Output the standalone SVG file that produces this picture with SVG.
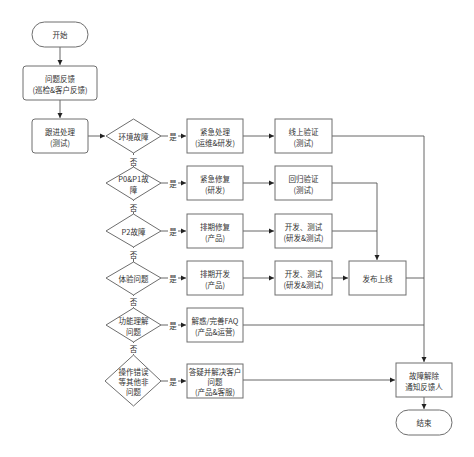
<svg xmlns="http://www.w3.org/2000/svg" width="474" height="457" viewBox="0 0 474 457">
<defs>
<marker id="ah" markerWidth="6" markerHeight="6" refX="5" refY="3" orient="auto" markerUnits="userSpaceOnUse">
<path d="M0,0.5 L5,3 L0,5.5 Z" fill="#222"/>
</marker>
<style>
.n{fill:#fff;stroke:#6e6e6e;stroke-width:1}
.t{font-family:"Noto Sans CJK SC","Noto Sans",sans-serif;font-size:7.5px;fill:#333;text-anchor:middle;dominant-baseline:central}
.c{fill:none;stroke:#555;stroke-width:0.9}
.a{marker-end:url(#ah)}
.lb{fill:#fff}
</style>
</defs>
<rect width="474" height="457" fill="#fff"/>
<g id="connectors">
<path class="c a" d="M60,47 V65"/>
<path class="c a" d="M60,100 V118"/>
<path class="c a" d="M88,136 H105"/>
<path class="c" d="M133.5,153 V167 M133.5,200 V214 M133.5,247 V262 M133.5,295 V308 M133.5,342 V355"/>
<path class="c a" d="M161,136 H186"/>
<path class="c a" d="M161,183 H186"/>
<path class="c a" d="M161,231 H186"/>
<path class="c a" d="M161,278 H186"/>
<path class="c a" d="M161,325 H186"/>
<path class="c a" d="M161,381 H186"/>
<path class="c a" d="M243,136 H274"/>
<path class="c a" d="M243,183 H274"/>
<path class="c a" d="M243,231 H274"/>
<path class="c a" d="M243,278 H274"/>
<path class="c a" d="M332,183 H377 V260"/>
<path class="c" d="M332,231 H377"/>
<path class="c a" d="M332,278 H348"/>
<path class="c" d="M406,278 H424"/>
<path class="c a" d="M332,136 H424 V362"/>
<path class="c" d="M243,325 H424"/>
<path class="c a" d="M243,380 H395"/>
<path class="c a" d="M424,397 V409"/>
<rect class="lb" x="168" y="130" width="10" height="12"/><text class="t" x="173" y="136">是</text>
<rect class="lb" x="168" y="177" width="10" height="12"/><text class="t" x="173" y="183">是</text>
<rect class="lb" x="168" y="225" width="10" height="12"/><text class="t" x="173" y="231">是</text>
<rect class="lb" x="168" y="272" width="10" height="12"/><text class="t" x="173" y="278">是</text>
<rect class="lb" x="168" y="319" width="10" height="12"/><text class="t" x="173" y="325">是</text>
<rect class="lb" x="168" y="375" width="10" height="12"/><text class="t" x="173" y="381">是</text>
<rect class="lb" x="128.5" y="155" width="10" height="11"/><text class="t" x="133.5" y="161">否</text>
<rect class="lb" x="128.5" y="201" width="10" height="11"/><text class="t" x="133.5" y="207">否</text>
<rect class="lb" x="128.5" y="248" width="10" height="11"/><text class="t" x="133.5" y="254">否</text>
<rect class="lb" x="128.5" y="296" width="10" height="11"/><text class="t" x="133.5" y="301">否</text>
<rect class="lb" x="128.5" y="343" width="10" height="11"/><text class="t" x="133.5" y="348">否</text>
</g>
<g id="start"><rect class="n" x="32" y="22" width="56" height="25" rx="12.5"/><text class="t" x="60" y="34.5">开始</text></g>
<g id="feedback"><rect class="n" x="23" y="66" width="74" height="34" rx="3"/><text class="t" x="60" y="78">问题反馈</text><text class="t" x="60" y="89">(巡检&amp;客户反馈)</text></g>
<g id="follow"><rect class="n" x="32" y="119" width="56" height="34" rx="3"/><text class="t" x="60" y="131">跟进处理</text><text class="t" x="60" y="142">(测试)</text></g>
<g id="d1"><polygon class="n" points="106,136 133.5,119 161,136 133.5,153"/><text class="t" x="133.5" y="136">环境故障</text></g>
<g id="d2"><polygon class="n" points="106,183 133.5,167 161,183 133.5,200"/><text class="t" x="133.5" y="178.5">P0&amp;P1故</text><text class="t" x="133.5" y="189">障</text></g>
<g id="d3"><polygon class="n" points="106,231 133.5,214 161,231 133.5,247"/><text class="t" x="133.5" y="231">P2故障</text></g>
<g id="d4"><polygon class="n" points="106,278 133.5,262 161,278 133.5,295"/><text class="t" x="133.5" y="278">体验问题</text></g>
<g id="d5"><polygon class="n" points="106,325 133.5,308 161,325 133.5,342"/><text class="t" x="133.5" y="320">功能理解</text><text class="t" x="133.5" y="331">问题</text></g>
<g id="d6"><polygon class="n" points="105,381 133.5,355 161,381 133.5,406"/><text class="t" x="133.5" y="371">操作错误</text><text class="t" x="133.5" y="381">等其他非</text><text class="t" x="133.5" y="391">问题</text></g>
<g id="b1"><rect class="n" x="187" y="119" width="56" height="34"/><text class="t" x="215" y="131">紧急处理</text><text class="t" x="215" y="142">(运维&amp;研发)</text></g>
<g id="b2"><rect class="n" x="187" y="166" width="56" height="34"/><text class="t" x="215" y="178">紧急修复</text><text class="t" x="215" y="189">(研发)</text></g>
<g id="b3"><rect class="n" x="187" y="214" width="56" height="34"/><text class="t" x="215" y="226">排期修复</text><text class="t" x="215" y="237">(产品)</text></g>
<g id="b4"><rect class="n" x="187" y="261" width="56" height="34"/><text class="t" x="215" y="273">排期开发</text><text class="t" x="215" y="284">(产品)</text></g>
<g id="b5"><rect class="n" x="187" y="308" width="56" height="34"/><text class="t" x="215" y="320">解惑/完善FAQ</text><text class="t" x="215" y="331">(产品&amp;运营)</text></g>
<g id="b6"><rect class="n" x="187" y="364" width="56" height="34"/><text class="t" x="215" y="371">答疑并解决客户</text><text class="t" x="215" y="381">问题</text><text class="t" x="215" y="391">(产品&amp;客服)</text></g>
<g id="c1"><rect class="n" x="275" y="119" width="57" height="34"/><text class="t" x="303.5" y="131">线上验证</text><text class="t" x="303.5" y="142">(测试)</text></g>
<g id="c2"><rect class="n" x="275" y="166" width="57" height="34"/><text class="t" x="303.5" y="178">回归验证</text><text class="t" x="303.5" y="189">(测试)</text></g>
<g id="c3"><rect class="n" x="275" y="214" width="57" height="34"/><text class="t" x="303.5" y="226">开发、测试</text><text class="t" x="303.5" y="237">(研发&amp;测试)</text></g>
<g id="c4"><rect class="n" x="275" y="261" width="57" height="34"/><text class="t" x="303.5" y="273">开发、测试</text><text class="t" x="303.5" y="284">(研发&amp;测试)</text></g>
<g id="release"><rect class="n" x="349" y="261" width="57" height="34"/><text class="t" x="377.5" y="278">发布上线</text></g>
<g id="resolved"><rect class="n" x="396" y="363" width="56" height="34"/><text class="t" x="424" y="375">故障解除</text><text class="t" x="424" y="386">通知反馈人</text></g>
<g id="end"><rect class="n" x="396" y="410" width="56" height="25" rx="12.5"/><text class="t" x="424" y="422.5">结束</text></g>
</svg>
